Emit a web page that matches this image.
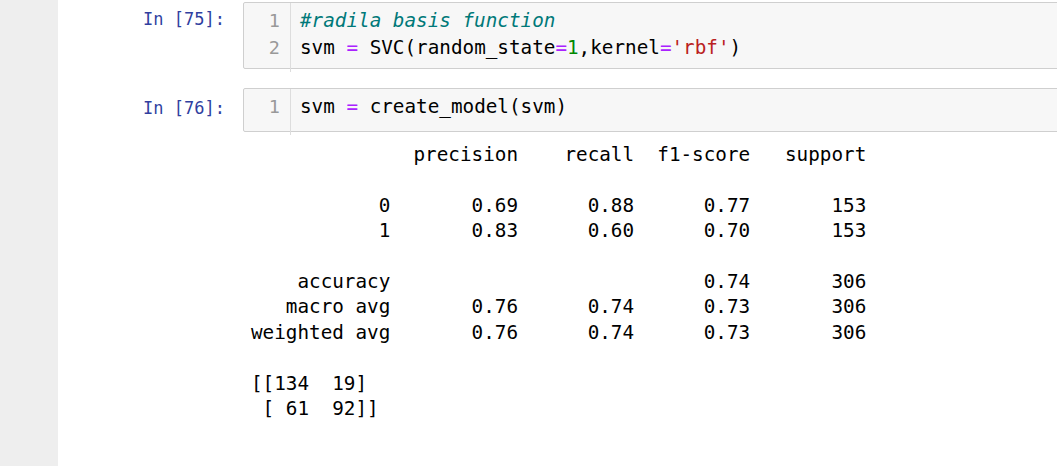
<!DOCTYPE html>
<html><head><meta charset="utf-8">
<script src="https://cdn.jsdelivr.net/npm/chart.js@4"></script>
<style>
body{margin:0;width:1057px;height:466px;overflow:hidden;background:#eeeeee;font-family:"DejaVu Sans Mono",monospace;}
#nb{position:absolute;left:58px;top:0;right:0;bottom:0;background:#fff;}
.prompt{position:absolute;left:85px;color:#303f9f;font-size:17px;}
.cell{position:absolute;left:185px;right:-2px;background:#f7f7f7;border:1px solid #cfcfcf;border-radius:2px;}
.ln{position:absolute;left:0;width:36px;padding-right:10px;text-align:right;color:#999;border-right:1px solid #ddd;height:100%;}
.code,.ln{font-size:18.5px;line-height:27px;padding-top:4px;white-space:pre;}
.code{position:absolute;left:56px;color:#000;font-size:19.3px;}
.cm{color:#007979;font-style:italic}.op{color:#aa22ff}.num{color:#080}.str{color:#ba2121}
pre{position:absolute;left:193px;top:142px;margin:0;font-family:"DejaVu Sans Mono",monospace;font-size:19.3px;line-height:25.4px;color:#000;}
</style></head><body>
<div id="nb">
<div class="prompt" style="top:9px">In [75]:</div>
<div class="cell" style="top:2px;height:65px"><div class="ln">1
2</div><div class="code"><span class="cm">#radila basis function</span>
svm <span class="op">=</span> SVC(random_state<span class="op">=</span><span class="num">1</span>,kernel<span class="op">=</span><span class="str">'rbf'</span>)</div></div>
<div class="prompt" style="top:98px">In [76]:</div>
<div class="cell" style="top:88px;height:42px"><div class="ln">1</div><div class="code">svm <span class="op">=</span> create_model(svm)</div></div>
<pre id="out"></pre>
</div>
<script>
const headers=["precision","recall","f1-score","support"];
const classes=["0","1"];
const precision=[0.69,0.83];
const recall=[0.88,0.60];
const f1=[0.77,0.70];
const support=[153,153];
const accuracy=0.74;
const avgNames=["macro avg","weighted avg"];
const avgPrecision=[0.76,0.76];
const avgRecall=[0.74,0.74];
const avgF1=[0.73,0.73];
const total=306;
const confusion=[[134,19],[61,92]];
const r=(s,w)=>String(s).padStart(w);
const f=v=>r(v.toFixed(2),9);
let L=[];
L.push(r("",12)+" "+headers.map(h=>" "+r(h,9)).join(""));
L.push("");
classes.forEach((c,i)=>L.push(r(c,12)+" "+" "+f(precision[i])+" "+f(recall[i])+" "+f(f1[i])+" "+r(support[i],9)));
L.push("");
L.push(r("accuracy",12)+" "+" "+r("",9)+" "+r("",9)+" "+f(accuracy)+" "+r(total,9));
avgNames.forEach((n,i)=>L.push(r(n,12)+" "+" "+f(avgPrecision[i])+" "+f(avgRecall[i])+" "+f(avgF1[i])+" "+r(total,9)));
L.push("");
L.push("[["+confusion[0].map(v=>r(v,3)).join(" ")+"]");
L.push(" ["+confusion[1].map(v=>r(v,3)).join(" ")+"]]");
document.getElementById("out").textContent=L.join("\n");
</script>
</body></html>
